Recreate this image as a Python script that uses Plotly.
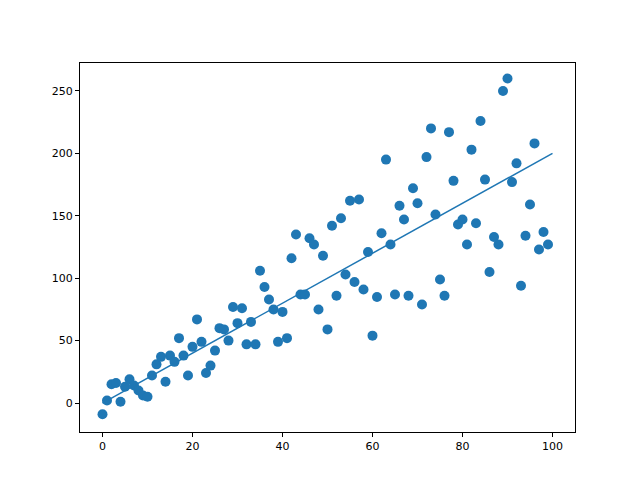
import plotly.graph_objects as go

x_vals = list(range(100))
y_vals = [-9, 2, 15, 16, 1, 13, 19, 14, 10, 6, 5, 22, 31, 37, 17, 38, 33, 52, 38, 22,
          45, 67, 49, 24, 30, 42, 60, 59, 50, 77, 64, 76, 47, 65, 47, 106, 93, 83, 75, 49,
          73, 52, 116, 135, 87, 87, 132, 127, 75, 118, 59, 142, 86, 148, 103, 162, 97, 163, 91, 121,
          54, 85, 136, 195, 127, 87, 158, 147, 86, 172, 160, 79, 197, 220, 151, 99, 86, 217, 178, 143,
          147, 127, 203, 144, 226, 179, 105, 133, 127, 250, 260, 177, 192, 94, 134, 159, 208, 123, 137, 127]
line_x = [0, 100]
line_y = [0, 200]

c = '#1f77b4'
fig = go.Figure()
fig.add_trace(go.Scatter(x=x_vals, y=y_vals, mode='markers',
                         marker=dict(color=c, size=10, line=dict(width=0))))
fig.add_trace(go.Scatter(x=line_x, y=line_y, mode='lines', line=dict(color=c, width=1.5)))

axis = dict(showgrid=False, zeroline=False, showline=True, mirror=True, linecolor='black',
            linewidth=1, ticks='outside', ticklen=4, tickcolor='black',
            tickfont=dict(family='DejaVu Sans', size=11, color='black'))
fig.update_layout(width=637, height=487, showlegend=False,
                  paper_bgcolor='white', plot_bgcolor='white',
                  margin=dict(l=72, r=70, t=55, b=63),
                  xaxis=dict(range=[-5, 105], tickvals=[0, 20, 40, 60, 80, 100], **axis),
                  yaxis=dict(range=[-23.2, 272.4], tickvals=[0, 50, 100, 150, 200, 250], **axis))
fig.write_html("out.html")
